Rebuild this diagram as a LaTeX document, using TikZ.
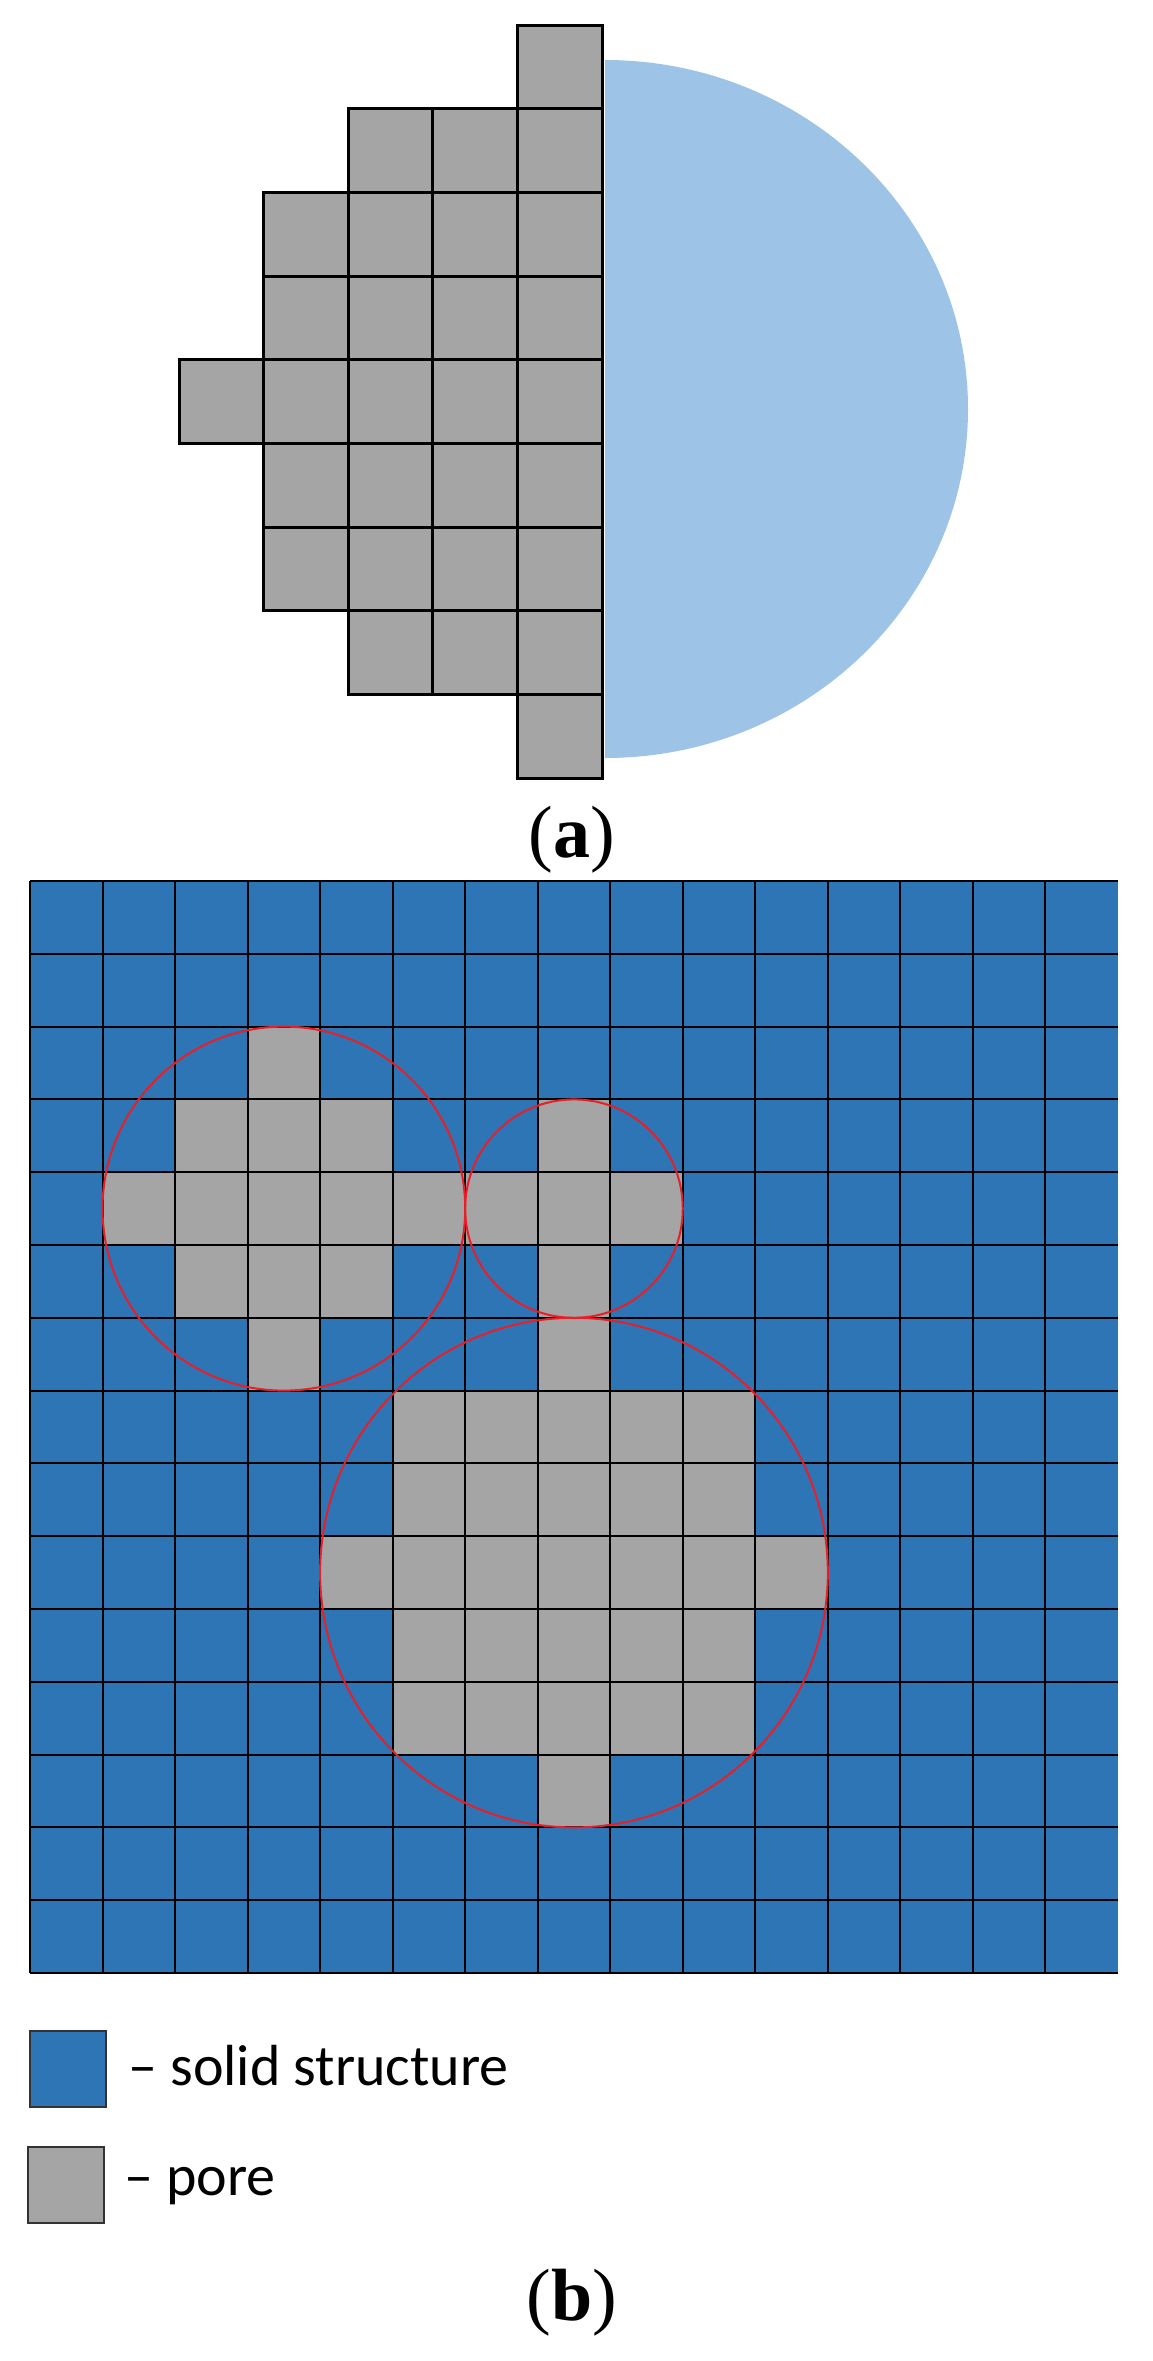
\documentclass[tikz,border=0pt]{standalone}
\usepackage{fontspec}
\setmainfont{Liberation Serif}
\newfontfamily\legendfont{Carlito}
\usetikzlibrary{positioning}

\definecolor{poregray}{RGB}{165,165,165}
\definecolor{solidblue}{RGB}{46,117,182}
\definecolor{droplight}{RGB}{157,195,230}
\definecolor{circlered}{RGB}{232,30,40}

\tikzset{
  porecell/.style={fill=poregray, draw=black, line width=1.5pt},
  gridline/.style={draw=black, line width=1pt},
  fitcircle/.style={draw=circlered, line width=1pt},
  keybox/.style={draw=black!80, line width=1.2pt},
  keytext/.style={anchor=base west, inner sep=0pt, font=\legendfont\fontsize{29}{31}\selectfont},
  panellabel/.style={inner sep=0pt, font=\fontsize{37}{40}\selectfont}
}

\begin{document}
\begin{tikzpicture}[x=0.5pt, y=-0.5pt]
    \useasboundingbox (0,0) rectangle (1152,2361);
    % (a) pore cells next to the droplet
    \begin{scope}[shift={(179,25)}, xscale=84.6, yscale=83.7]
        \foreach \r/\a/\b in {0/4/4, 1/2/4, 2/1/4, 3/1/4, 4/0/4, 5/1/4, 6/1/4, 7/2/4, 8/4/4}
            \foreach \c in {\a,...,\b}
                \draw[porecell] (\c,\r) rectangle ++(1,1);
    \end{scope}
    \fill[droplight] (605,60) arc[start angle=-90, end angle=90, x radius=363, y radius=349] -- cycle;
    \node (labela) [panellabel] at (572,840) {(\textbf{a})};
    % (b) grid of solid structure and pores
    \begin{scope}[shift={(30,881)}, xscale=72.53, yscale=72.8]
        \fill[solidblue] (0,0) rectangle (15,15);
        \foreach \r/\a/\b in {2/3/3, 3/2/4, 3/7/7, 4/1/8, 5/2/4, 5/7/7, 6/3/3, 6/7/7,
                              7/5/9, 8/5/9, 9/4/10, 10/5/9, 11/5/9, 12/7/7}
            \foreach \c in {\a,...,\b}
                \fill[poregray] (\c,\r) rectangle ++(1,1);
        \foreach \i in {0,...,14}
            \draw[gridline] (\i,0) -- (\i,15);
        \foreach \j in {0,...,15}
            \draw[gridline] (0,\j) -- (15,\j);
        \draw[fitcircle] (3.5,4.5) circle[radius=2.5];
        \draw[fitcircle] (7.5,4.5) circle[radius=1.5];
        \draw[fitcircle] (7.5,9.5) circle[radius=3.5];
    \end{scope}
    % legend
    \draw[keybox, fill=solidblue] (30,2031) rectangle (106,2107);
    \draw[keybox, fill=poregray] (28,2147) rectangle (104,2223);
    \node (solidkey) [keytext] at (128,2085) {– solid structure};
    \node (porekey) [keytext] at (124,2195) {– pore};
    \node (labelb) [panellabel] at (572,2303) {(\textbf{b})};
\end{tikzpicture}
\end{document}
